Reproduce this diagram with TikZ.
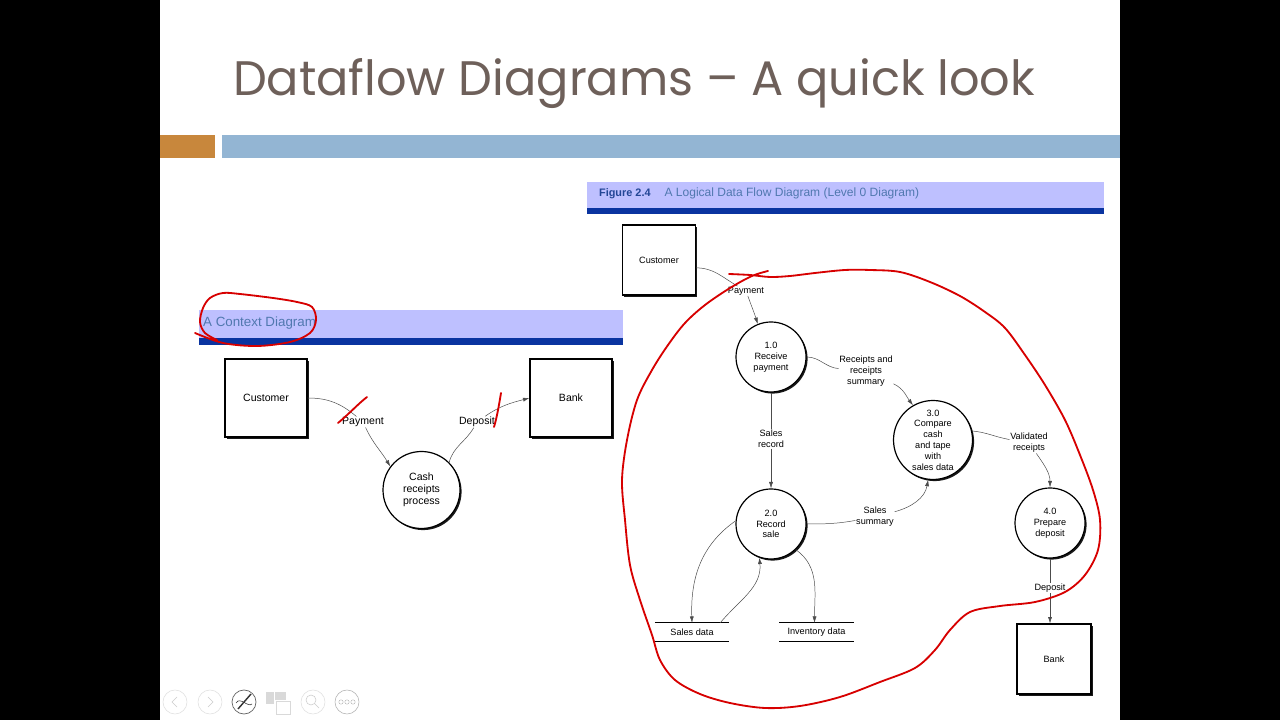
\documentclass[tikz,border=0pt]{standalone}
\usepackage{fontspec}
\setmainfont{Liberation Sans}
\newfontfamily\titlefont{Poppins}
\usepackage{graphicx}
\usepackage{xcolor}
\usetikzlibrary{arrows.meta}
\usetikzlibrary{shadows}

\definecolor{titlegrey}{RGB}{110,96,90}
\definecolor{orangebar}{RGB}{200,135,60}
\definecolor{bluebar}{RGB}{147,181,211}
\definecolor{bandlav}{RGB}{190,192,255}
\definecolor{bandline}{RGB}{10,52,160}
\definecolor{bandtext}{RGB}{80,120,175}
\definecolor{figblue}{RGB}{35,70,150}
\definecolor{inkred}{RGB}{215,0,0}

\newcommand{\ctxfont}{\fontsize{15}{17}\selectfont}
\newcommand{\lvlfont}{\fontsize{13}{15.4}\selectfont}

\begin{document}
\begin{tikzpicture}[x=0.5mm, y=0.5mm]
        % ================= styles =================
        \tikzset{
            % external entity (square with shadow)
            extbox/.style={draw=black, line width=1.7pt, fill=white, minimum width=41mm, minimum height=39mm, inner sep=0pt,
                drop shadow={shadow xshift=0.85mm, shadow yshift=-0.85mm, fill=black, opacity=0.9}},
            % process bubble
            procnode/.style={circle, draw=black, line width=1.7pt, fill=white, inner sep=0pt, align=center,
                drop shadow={shadow xshift=0.8mm, shadow yshift=-0.8mm, fill=black, opacity=0.9}},
            % data store (two lines)
            storenode/.style={minimum width=37mm, minimum height=9mm, inner sep=0pt, font=\lvlfont},
            storeline/.style={line width=1.5pt, black},
            % data flows and their labels
            flow/.style={draw=black!70, line width=0.7pt, -{Latex[length=3.2mm, width=2mm]}},
            flowline/.style={draw=black!70, line width=0.7pt},
            flowlbl/.style={fill=white, inner sep=1pt, align=center},
            % red pen
            redink/.style={draw=inkred, line width=2.6pt, line cap=round, line join=round}
        }

        % ================= slide background =================
        \fill[black] (0,0) rectangle (1280,720);
        \fill[white] (160,0) rectangle (1120,720);
        \useasboundingbox (0,0) rectangle (1280,720);

        % title and bars
        \node[font=\titlefont, text=titlegrey, anchor=base, inner sep=0pt] (title) at (634,624)
            {\resizebox{401mm}{18.5mm}{Dataflow Diagrams – A quick look}};
        \fill[orangebar] (160,562) rectangle (215,585);
        \fill[bluebar] (222,562) rectangle (1120,585);

        % ================= caption bands =================
        \fill[bandlav] (199,382) rectangle (623,410);
        \fill[bandline] (199,375) rectangle (623,382);
        \node[anchor=west, text=bandtext, font=\fontsize{19}{22}\selectfont, inner sep=0pt] (ctxcap) at (203,397) {A Context Diagram};

        \fill[bandlav] (587,512) rectangle (1104,538);
        \fill[bandline] (587,506) rectangle (1104,512);
        \node[anchor=west, inner sep=0pt] (lvlcap) at (599,527)
            {\fontsize{15.5}{18}\selectfont\bfseries\color{figblue}Figure 2.4\hspace{7mm}\mdseries\fontsize{17.1}{18}\selectfont\color{bandtext}A Logical Data Flow Diagram (Level 0 Diagram)};

        % ================= context diagram =================
        \node[extbox, font=\ctxfont] (cust1) at (266,322) {Customer};
        \node[extbox, font=\ctxfont] (bank1) at (571,322) {Bank};
        \node[procnode, minimum size=38.5mm, font=\ctxfont] (cash) at (421.5,230) {Cash\\receipts\\process};

        \node[flowlbl, font=\ctxfont] (pay1) at (363,298) {Payment};
        \node[flowlbl, font=\ctxfont] (dep1) at (477,298) {Deposit};

        \draw[flowline] (cust1.east) to[out=0, in=140] (pay1);
        \draw[flow] (pay1) to[out=-65, in=121] (cash.143);
        \draw[flowline] (cash.45) to[out=75, in=-120] (dep1);
        \draw[flow] (dep1) to[out=35, in=195] (bank1.west);

        % ================= level 0 diagram =================
        \node[extbox, minimum width=36.5mm, minimum height=35mm, font=\lvlfont] (cust2) at (659,460) {Customer};
        \node[extbox, minimum width=37mm, minimum height=35mm, font=\lvlfont] (bank2) at (1054,61) {Bank};

        \node[procnode, minimum size=35mm, font=\lvlfont] (p1) at (771,363) {1.0\\Receive\\payment};
        \node[procnode, minimum size=35mm, font=\lvlfont] (p2) at (771,196) {2.0\\Record\\sale};
        \node[procnode, minimum size=39.5mm, font=\lvlfont] (p3) at (933,280) {3.0\\Compare\\cash\\and tape\\with\\sales data};
        \node[procnode, minimum size=35mm, font=\lvlfont] (p4) at (1050,197) {4.0\\Prepare\\deposit};

        \node[storenode] (sd) at (692,88) {Sales data};
        \node[storenode] (inv) at (816.5,88) {Inventory data};
        \draw[storeline] (sd.north west) -- (sd.north east) (sd.south west) -- (sd.south east);
        \draw[storeline] (inv.north west) -- (inv.north east) (inv.south west) -- (inv.south east);

        % flow labels
        \node[flowlbl, font=\lvlfont] (pay2) at (746,429) {Payment};
        \node[flowlbl, font=\lvlfont] (srec) at (771,281) {Sales\\record};
        \node[flowlbl, font=\lvlfont] (rsum) at (866,349) {Receipts and\\receipts\\summary};
        \node[flowlbl, font=\lvlfont] (vrec) at (1029,277) {Validated\\receipts};
        \node[flowlbl, font=\lvlfont] (ssum) at (875,203) {Sales\\summary};
        \node[flowlbl, font=\lvlfont] (dep2) at (1050,132) {Deposit};

        % flows
        \draw[flowline] (cust2.-12) to[out=0, in=150] (pay2);
        \draw[flow] (pay2) to[out=-70, in=107] (p1.112);
        \draw[flowline] (p1) -- (srec);
        \draw[flow] (srec) -- (p2);
        \draw[flowline] (p1.east) to[out=0, in=175] (rsum);
        \draw[flow] (rsum) to[out=-25, in=127] (p3.120);
        \draw[flowline] (p3.13) to[out=-5, in=170] (vrec);
        \draw[flow] (vrec) to[out=-55, in=90] (p4.north);
        \draw[flowline] (p2.east) to[out=0, in=190] (ssum);
        \draw[flow] (ssum) to[out=15, in=-100] (p3.-97);
        \draw[flow] (p2.175) to[out=215, in=92] (sd.north);
        \draw[flow] ([xshift=-4.5mm]sd.north east) to[out=50, in=-85] (p2.-109);
        \draw[flow] (p2.-46) to[out=-35, in=90] ([xshift=-1mm]inv.north);
        \draw[flowline] (p4) -- (dep2);
        \draw[flow] (dep2) -- (dep2 |- bank2.north);

        % ================= red pen marks =================
        \draw[redink] plot[smooth, tension=0.55] coordinates {
            (729,446) (750,445) (770,443) (790,444) (815,447) (845,450) (870,450) (900,448)
            (930,438) (960,424) (985,408) (1005,392) (1025,365) (1045,335) (1065,300) (1080,265)
            (1093,230) (1100,200) (1098,170) (1085,145) (1065,128) (1035,118) (1000,114) (970,108)
            (950,90) (935,70) (915,52) (880,38) (840,23) (800,14) (765,12) (730,17) (700,26)
            (675,40) (660,60) (652,85) (640,120) (630,155) (625,200) (622,240) (627,280) (637,320)
            (652,350) (668,375) (685,397) (705,415) (730,432) (752,444) (768,449)};
        \draw[redink] plot[smooth, tension=0.55] coordinates {
            (195,387) (223,377) (257,374) (290,378) (310,387) (316,400) (312,413) (297,418)
            (273,422) (240,426) (223,427) (210,422) (203,412) (200,398) (205,387) (217,380)};
        \draw[redink] (338,297) .. controls (350,307) and (358,316) .. (367,323);
        \draw[redink] (501,327) .. controls (499,315) and (497,303) .. (494,293);

        % ================= slide show toolbar =================
        \draw[black!12, line width=0.8pt] (175,18) circle[radius=12];
        \draw[black!20, line width=0.8pt] (177,23) -- (172,18) -- (177,13);
        \draw[black!12, line width=0.8pt] (210,18) circle[radius=12];
        \draw[black!20, line width=0.8pt] (208,23) -- (213,18) -- (208,13);
        \draw[black!60, line width=1pt] (244,18) circle[radius=12];
        \draw[black!80, line width=2pt] (238,11) -- (251,26);
        \draw[black!80, line width=0.8pt] (236,17) .. controls (240,24) and (248,12) .. (252,16);
        \fill[black!15] (266,16) rectangle (274,28);
        \fill[black!15] (275,20) rectangle (286,28);
        \draw[black!15, fill=white, line width=0.8pt] (276,6) rectangle (290,19);
        \draw[black!12, line width=0.8pt] (313,18) circle[radius=12];
        \draw[black!20, line width=0.8pt] (311,20) circle[radius=5] (314.5,16.5) -- (319,12);
        \draw[black!30, line width=0.8pt] (347,18) circle[radius=12];
        \foreach \ox in {341,347,353}
            \draw[black!30, line width=0.5pt] (\ox,18) circle[radius=2.2];

    \end{tikzpicture}
\end{document}
